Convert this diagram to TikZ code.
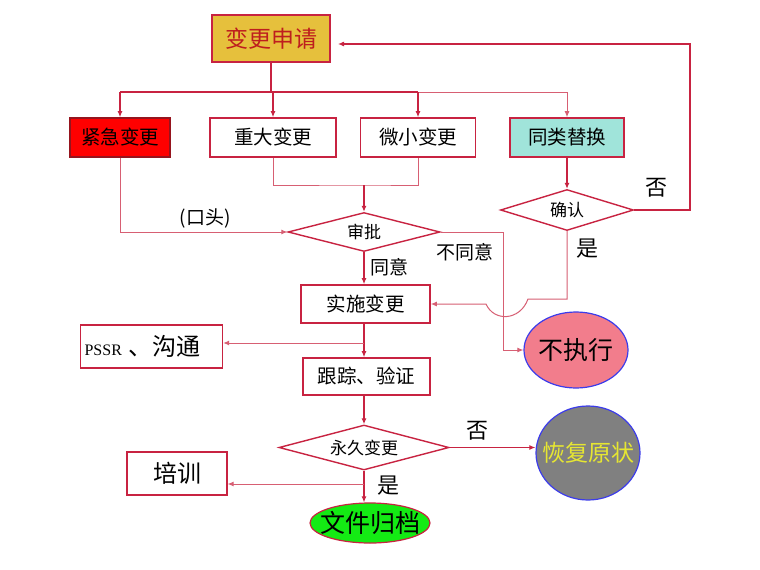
\documentclass[tikz,border=0pt]{standalone}
\usepackage{fontspec}
\setmainfont{Liberation Serif}
\newfontfamily\cjk{Noto Sans CJK SC}
\usetikzlibrary{shapes.geometric,arrows.meta}
\definecolor{ln}{RGB}{200,35,65}
\definecolor{lnlight}{RGB}{215,95,115}
\definecolor{goldf}{RGB}{230,192,60}
\definecolor{tealf}{RGB}{160,228,218}
\definecolor{pinkf}{RGB}{242,125,140}
\definecolor{grayf}{RGB}{128,128,128}
\definecolor{greenf}{RGB}{20,235,20}
\definecolor{bluel}{RGB}{60,60,235}
\definecolor{yel}{RGB}{230,230,50}
\definecolor{redt}{RGB}{190,30,30}
\begin{document}
\begin{tikzpicture}[x=1pt,y=-1pt,
  every node/.style={font=\cjk},
  con/.style={draw=ln,line width=1.1pt},
  conl/.style={draw=lnlight,line width=1pt},
  ar/.style={con,-{Latex[length=6pt,width=5pt]}},
  arl/.style={conl,-{Latex[length=6pt,width=5pt]}},
  box/.style={draw=ln,line width=1.6pt,rectangle,inner sep=0pt,font=\cjk\fontsize{19.5}{19.5}\selectfont},
  dia/.style={draw=ln,line width=1.4pt,diamond,inner sep=0pt,shape aspect=3.8,fill=white},
  ell/.style={ellipse,inner sep=0pt,line width=1.2pt},
  lab/.style={font=\cjk\fontsize{19}{19}\selectfont,inner sep=0pt}]
\useasboundingbox (0,0) rectangle (760,570);
\fill[white] (0,0) rectangle (760,570);

% nodes
\node[box,fill=goldf,text=redt,minimum width=118pt,minimum height=47pt,font=\cjk\fontsize{23}{23}\selectfont] (apply) at (271,38.5) {变更申请};
\node[box,fill=red,draw={rgb,255:red,150;green,20;blue,30},minimum width=100pt,minimum height=39pt] (emerg) at (120,137.5) {紧急变更};
\node[box,fill=white,minimum width=126pt,minimum height=39pt] (major) at (273,137.5) {重大变更};
\node[box,fill=white,minimum width=115pt,minimum height=39pt] (minor) at (418,137.5) {微小变更};
\node[box,fill=tealf,minimum width=114pt,minimum height=39pt] (same) at (567,137.5) {同类替换};

\node[dia,minimum width=152pt,minimum height=39pt,font=\cjk\fontsize{17}{17}\selectfont] (approve) at (364,232) {审批};
\node[dia,minimum width=133pt,minimum height=41pt,font=\cjk\fontsize{17}{17}\selectfont] (confirm) at (567,210) {确认};

\node[box,fill=white,minimum width=129pt,minimum height=38pt] (impl) at (365.5,304) {实施变更};
\node[box,fill=white,minimum width=142pt,minimum height=43pt,anchor=west,text width=134pt,align=left,line width=1.2pt] (pssr) at (80,346.5) {\fontsize{16}{16}\selectfont\rmfamily PSSR \cjk\fontsize{24}{24}\selectfont 、沟通};
\node[box,fill=white,minimum width=127pt,minimum height=37pt] (track) at (366.5,376.5) {跟踪、验证};
\node[dia,minimum width=170pt,minimum height=45pt,font=\cjk\fontsize{17}{17}\selectfont] (perm) at (364,447.5) {永久变更};
\node[box,fill=white,minimum width=100pt,minimum height=43pt,font=\cjk\fontsize{24}{24}\selectfont,line width=1.2pt] (train) at (177,473.5) {培训};

\node[ell,draw=bluel,fill=pinkf,minimum width=104pt,minimum height=76pt,
  label={[font=\cjk\fontsize{25}{25}\selectfont,inner sep=0pt]center:不执行}] (notexec) at (576,350) {};
\node[ell,draw=bluel,fill=grayf,minimum width=104pt,minimum height=94pt,
  label={[text=yel,font=\cjk\fontsize{23}{23}\selectfont,inner sep=0pt]center:恢复原状}] (restore) at (588,453) {};
\node[ell,draw=ln,fill=greenf,minimum width=120pt,minimum height=40pt,
  label={[font=\cjk\fontsize{25}{25}\selectfont,inner sep=0pt]center:文件归档}] (archive) at (370,523) {};

% coordinates
\coordinate (tl) at (120,92);
\coordinate (tm) at (418,92);
\coordinate (tr) at (567,92);
\coordinate (mm) at (364,185);
\coordinate (fb) at (338,44);
\coordinate (dis) at (503,232);
\coordinate (br) at (364,343);
\coordinate (tb) at (364,484);

% connectors
\draw[con] (apply.south) -- (apply.south |- tl);
\draw[con] (tl) -- (tm);
\draw[conl] (tm) -- (tr);
\draw[ar] (tl) -- (emerg.north);
\draw[ar] (major.north |- tl) -- (major.north);
\draw[ar] (tm) -- (minor.north);
\draw[arl] (tr) -- (same.north);

\draw[conl] (major.south) |- (mm) -| (minor.south);
\draw[ar] (mm) -- (approve.north);
\draw[arl] (emerg.south) |- (approve.west);
\draw[ar] (same.south) -- (confirm.north);

\draw[ar] (confirm.east) -| (690,44) -- (fb);
\draw[arl] (approve.east) -- (dis) |- (notexec.west);
\draw[ar] (approve.south) -- (approve.south |- impl.north);
\draw[arl] (confirm.south) -- (567,299) -- (528,299) .. controls (520,321) and (494,322) .. (486,304) -- (impl.east);

\draw[ar] (impl.south -| br) -- (track.north -| br);
\draw[arl] (br) -- (br -| pssr.east);
\draw[ar] (track.south -| br) -- (perm.north);
\draw[ar] (perm.east) -- (perm.east -| restore.west);
\draw[ar] (perm.south) -- (perm.south |- archive.north);
\draw[arl] (tb) -- (tb -| train.east);

% labels
\node[lab] at (205,218) {(口头)};
\node[lab] at (465,252) {不同意};
\node[lab] at (389,267) {同意};
\node[lab,font=\cjk\fontsize{22}{22}\selectfont] at (656,188) {否};
\node[lab,font=\cjk\fontsize{22}{22}\selectfont] at (587,249) {是};
\node[lab,font=\cjk\fontsize{22}{22}\selectfont] at (477,431) {否};
\node[lab,font=\cjk\fontsize{22}{22}\selectfont] at (388,486) {是};
\end{tikzpicture}
\end{document}
